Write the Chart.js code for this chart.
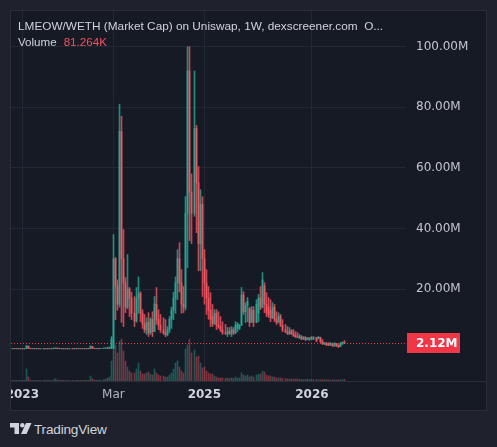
<!DOCTYPE html>
<html><head><meta charset="utf-8">
<script src="https://cdn.jsdelivr.net/npm/chart.js@4.4.1/dist/chart.umd.min.js"></script>
<style>
html,body{margin:0;padding:0;background:#1f222c;width:497px;height:447px;overflow:hidden;font-family:"Liberation Sans",Arial,sans-serif;}
#panel{position:absolute;left:10px;top:10px;width:475px;height:399px;background:#161a25;border:1px solid #2a2e39;}
#c{position:absolute;left:11px;top:11px;}
#title{position:absolute;left:18px;top:18.5px;color:#d1d4dc;font-size:11.8px;white-space:nowrap;}
#vol{position:absolute;left:18px;top:35px;color:#d1d4dc;font-size:11.6px;white-space:nowrap;}
#vol span{color:#f7525f;margin-left:7px;}
#brand{position:absolute;left:10px;top:421.5px;color:#d1d4dc;font-size:13.6px;white-space:nowrap;}
#brand svg{position:absolute;left:0;top:1.5px;}
#brand span{position:absolute;left:24px;top:0;letter-spacing:-0.2px;}
</style></head>
<body>
<div id="panel"></div>
<canvas id="c" width="475" height="399"></canvas>
<div id="title">LMEOW/WETH (Market Cap) on Uniswap, 1W, dexscreener.com&nbsp; O...</div>
<div id="vol">Volume<span id="volv"></span></div>
<div id="brand"><svg width="22" height="12" viewBox="0 0 22 12"><path d="M0 0h9v11h-4.5v-6.5h-4.5z" fill="#d1d4dc"/><circle cx="12.3" cy="2.2" r="2.2" fill="#d1d4dc"/><path d="M16 0h5.5l-5 11h-5.5z" fill="#d1d4dc"/></svg><span>TradingView</span></div>
<script>
// ---- data (market cap in millions, volume in thousands) ----
const N_SLOTS = 191;
const timeTickIndex = [5, 49, 93, 145];
const timeTickLabels = ['2023', 'Mar', '2025', '2026'];
const priceTicks = [20, 40, 60, 80, 100];
const priceTickLabels = ['20.00M', '40.00M', '60.00M', '80.00M', '100.00M'];
const lastPriceLabel = '2.12M';

const openV = [
.30,.33,.28,.34,.27,.32,.26,.33,1.10,.40,
.31,.35,.28,.33,.27,.31,.26,.32,.27,.33,
.28,.40,.48,.32,.28,.33,.27,.32,.26,.31,
.27,.33,.28,.34,.29,.33,.28,.35,.30,1.00,
.42,.34,.38,.31,.40,.45,.50,.42,
0.4,0.5,30,21,15,72,30,22,14,20,
17,12,9.5,17,18.5,12,8.5,6.5,9,5.5,
10,6,15,10,8,6.5,5.5,5,6.5,10,
13,17,22,30,22,15,14,45,92,52,
45,73,55,35,48,30,22,17,13,11,
8.5,12,8,7.5,6.5,5.5,5.2,6,5.3,6.5,
5.4,7,7,8,18,12.5,14.5,13.5,9,13,
9,12,17,14,21,15,14,13,10.5,14,
10,9,11,8,6.5,5.8,5.2,6.2,5.2,4.6,
4.2,4,4.3,3.5,4,3.3,3.4,3.9,3.5,4,
3.6,4,2.6,1.8,2.2,1.9,1.5,2,1.4,2,
1.5,1,2,2.4];
const highV = [
.40,.38,.40,.38,.36,.37,.38,1.40,1.15,.45,
.40,.38,.37,.36,.36,.35,.37,.36,.38,.37,
.52,.62,.50,.38,.37,.36,.37,.36,.36,.35,
.37,.36,.38,.37,.38,.37,.40,.40,1.30,1.05,
.48,.42,.41,.45,.55,.62,.80,.90,
4.3,38,30.4,23,81,77,39.6,23.8,31.4,20.5,
19,17.5,20.5,24,19.1,13.2,11.6,10.5,12.2,10.5,
12.5,17.5,20.5,13.2,11.6,10.5,9.9,7.6,10.9,14,
19,24,33,35.3,26.4,20.8,50.5,100,100,58,
92,74,60.4,52.8,50.5,33,26.4,20.8,18.8,14.9,
13.2,13.2,12.5,10.9,9.2,8.3,7.3,7.3,7.6,7.3,
9.2,8.9,8.3,20.5,19.1,15.5,17.2,13.9,14.2,14.2,
16.5,18.2,20.8,25.4,22.1,18.8,17.2,16.5,15.5,14.9,
12.5,12.2,11.6,9.9,8.3,7.6,7.3,6.6,6.6,5.9,
5.6,5,4.6,4.3,4.3,4,4,4.3,4.3,4.1,
4.3,4.1,3.3,2.3,2.3,2.3,2.3,2.05,2.3,2.05,
1.65,2.3,2.6,3];
const lowV = [
.22,.24,.24,.22,.21,.22,.20,.28,.30,.26,
.24,.22,.23,.21,.22,.20,.21,.22,.22,.23,
.25,.30,.26,.23,.22,.21,.22,.21,.20,.21,
.22,.22,.22,.23,.23,.22,.23,.25,.28,.30,
.28,.26,.25,.26,.30,.33,.36,.35,
0.3,0.3,9.9,13,14,9,7.6,12.2,13.5,10.9,
9.9,7.6,9,12,9.2,7,5.6,5,4.3,5,
4.3,5.9,8.3,6.6,5.6,5,4.3,4.5,5.6,7,
9.9,12,16.5,19,12,12.2,13,27,36,35,
44,38.6,26,26,17.5,15,11.6,10,7.6,7.6,
8.3,6.6,7,5.9,5,5,4.3,5,4.3,5,
5.4,5.9,6.6,8,11.6,8.9,9.2,7.6,8.9,7.6,
8.8,9.2,13.2,13.8,12.2,10.9,10.6,9.2,10.2,9.2,
8.3,8.8,7.6,5.9,5.6,5,5,5,4.3,4,
3.9,3.6,3.3,3.3,3,3.2,3,3.3,3.3,2.6,
3.5,2.3,1.65,1.65,1.3,1.3,1.3,1,1,1,
0.66,0.95,1.65,2];
const closeV = [
.33,.28,.34,.27,.32,.26,.33,1.10,.40,.31,
.35,.28,.33,.27,.31,.26,.32,.27,.33,.28,
.40,.48,.32,.28,.33,.27,.32,.26,.31,.27,
.33,.28,.34,.29,.33,.28,.35,.30,1.00,.42,
.34,.38,.31,.40,.45,.50,.42,.70,
3.5,30,21,15,72,30,22,14,20,17,
12,9.5,17,18.5,12,8.5,6.5,9,5.5,10,
6,15,10,8,6.5,5.5,5,6.5,10,13,
17,22,30,22,15,14,45,92,52,45,
73,55,35,48,30,22,17,13,10,8.5,
12,8,7.5,6.5,5.5,5.2,6,5.3,6.5,5.4,
8,8.5,8,18,12.5,14.5,16,9,13,9,
15,17,14,23,15,12,11.5,10.5,14,10,
9,11,8,6.5,5.8,5.2,6.2,5.2,4.6,4.2,
4,4.6,3.5,4,3.3,3.8,3.9,3.5,4,2.9,
4.1,2.6,2,2.2,1.6,1.5,2.1,1.4,2,1.3,
1,2.1,2.4,2.12];
const volumeK = [
30,25,35,20,30,25,40,600,200,40,
30,25,35,20,30,25,30,25,35,20,
60,120,50,30,25,30,20,30,25,30,
20,35,25,30,20,30,40,35,250,100,
60,40,35,50,70,90,150,200,
1000,2000,1800,1400,2000,2100,1500,1000,700,500,
400,400,600,900,500,350,350,400,450,350,
300,600,400,300,250,250,200,200,300,400,
600,900,1000,700,500,400,1600,1800,2100,1400,
1550,1200,1250,900,650,700,500,400,350,350,
250,200,150,150,150,125,150,125,150,125,
200,150,150,400,300,250,300,200,250,200,
300,350,350,500,450,300,250,250,200,200,
150,150,150,125,125,100,100,100,100,100,
100,75,75,75,75,100,75,75,75,75,
60,60,75,60,60,60,50,50,60,50,
50,60,60,81.264];

// ---- derived ----
const UP = '#22ab94', DOWN = '#f7525f';
const UPW = 'rgba(34,171,148,0.8)', DOWNW = 'rgba(247,82,95,0.8)';
const UPV = 'rgba(34,171,148,0.45)', DOWNV = 'rgba(247,82,95,0.45)';
const slots = Array.from({length: N_SLOTS}, (_, i) => i);
const isUp = closeV.map((c, i) => c >= openV[i]);
const wickData = lowV.map((l, i) => [l, highV[i]]);
const bodyData = openV.map((o, i) => [o, closeV[i]]);
const lastClose = closeV[closeV.length - 1];
const lastVol = volumeK[volumeK.length - 1];
document.getElementById('volv').textContent = lastVol.toFixed(3) + 'K';

Chart.defaults.font.family = '"DejaVu Sans", sans-serif';

const snap = {
  id: 'snap',
  afterDatasetsUpdate(chart) {
    chart.data.datasets.forEach((ds, di) => {
      chart.getDatasetMeta(di).data.forEach(el => { el.x = Math.floor(el.x) + 0.5; });
    });
  }
};

const overlay = {
  id: 'overlay',
  beforeDatasetsDraw(chart) {
    const {ctx, chartArea: a, scales: {y}} = chart;
    const py = Math.round(y.getPixelForValue(lastClose)) + 0.5;
    ctx.save();
    ctx.strokeStyle = '#f23645';
    ctx.lineWidth = 1;
    ctx.setLineDash([1, 2]);
    ctx.beginPath(); ctx.moveTo(a.left, py); ctx.lineTo(a.right, py); ctx.stroke();
    ctx.restore();
  },
  afterDraw(chart) {
    const {ctx, chartArea: a, scales: {y}, width} = chart;
    ctx.save();
    ctx.strokeStyle = '#2a2e39'; ctx.lineWidth = 1;
    ctx.beginPath(); ctx.moveTo(0, a.bottom + 0.5); ctx.lineTo(width, a.bottom + 0.5); ctx.stroke();
    const py = y.getPixelForValue(lastClose);
    ctx.fillStyle = '#f23645';
    ctx.fillRect(a.right + 1, Math.round(py) - 10, 53, 20);
    ctx.fillStyle = '#ffffff';
    ctx.font = 'bold 12px "DejaVu Sans", sans-serif';
    ctx.textBaseline = 'middle'; ctx.textAlign = 'left';
    ctx.fillText(lastPriceLabel, a.right + 10, Math.round(py) + 0.5);
    ctx.restore();
  }
};

new Chart(document.getElementById('c'), {
  type: 'bar',
  data: {
    labels: slots,
    datasets: [
      {label: 'body', data: bodyData, yAxisID: 'y', order: 0, grouped: false, barThickness: 1,
       backgroundColor: isUp.map(u => u ? UP : DOWN), borderWidth: 0},
      {label: 'wick', data: wickData, yAxisID: 'y', order: 1, grouped: false, barThickness: 1,
       backgroundColor: isUp.map(u => u ? UPW : DOWNW), borderWidth: 0},
      {label: 'volume', data: volumeK, yAxisID: 'yv', order: 2, grouped: false, barThickness: 1,
       backgroundColor: isUp.map(u => u ? UPV : DOWNV), borderWidth: 0}
    ]
  },
  options: {
    responsive: false, devicePixelRatio: 1, animation: false,
    layout: {padding: 0},
    plugins: {legend: {display: false}, tooltip: {enabled: false}},
    scales: {
      x: {
        type: 'category', offset: true,
        grid: {offset: false, drawTicks: false,
               color: (c) => timeTickIndex.includes(c.index) ? '#232733' : 'rgba(0,0,0,0)'},
        border: {display: false},
        ticks: {
          autoSkip: false, maxRotation: 0, minRotation: 0, padding: 7,
          callback: (v, i) => { const k = timeTickIndex.indexOf(i); return k >= 0 ? timeTickLabels[k] : ''; },
          color: (c) => timeTickLabels[timeTickIndex.indexOf(c.index)] === 'Mar' ? '#b2b5be' : '#d1d4dc',
          font: (c) => ({size: 12, weight: timeTickLabels[timeTickIndex.indexOf(c.index)] === 'Mar' ? 'normal' : 'bold'})
        },
        afterFit: (s) => { s.height = 29; s.paddingLeft = 0; s.paddingRight = 0; }
      },
      y: {
        position: 'right', min: -10.37, max: 111.78,
        afterBuildTicks: (s) => { s.ticks = priceTicks.map(v => ({value: v})); },
        grid: {color: '#232733', drawTicks: false},
        border: {display: false},
        ticks: {padding: 10, color: '#c3c6ce', font: {size: 12},
                callback: (v) => priceTickLabels[priceTicks.indexOf(v)]},
        afterFit: (s) => { s.width = 80; s.paddingTop = 0; s.paddingBottom = 0; }
      },
      yv: {display: false, min: 0, max: 18500}
    }
  },
  plugins: [snap, overlay]
});
</script>
</body></html>
